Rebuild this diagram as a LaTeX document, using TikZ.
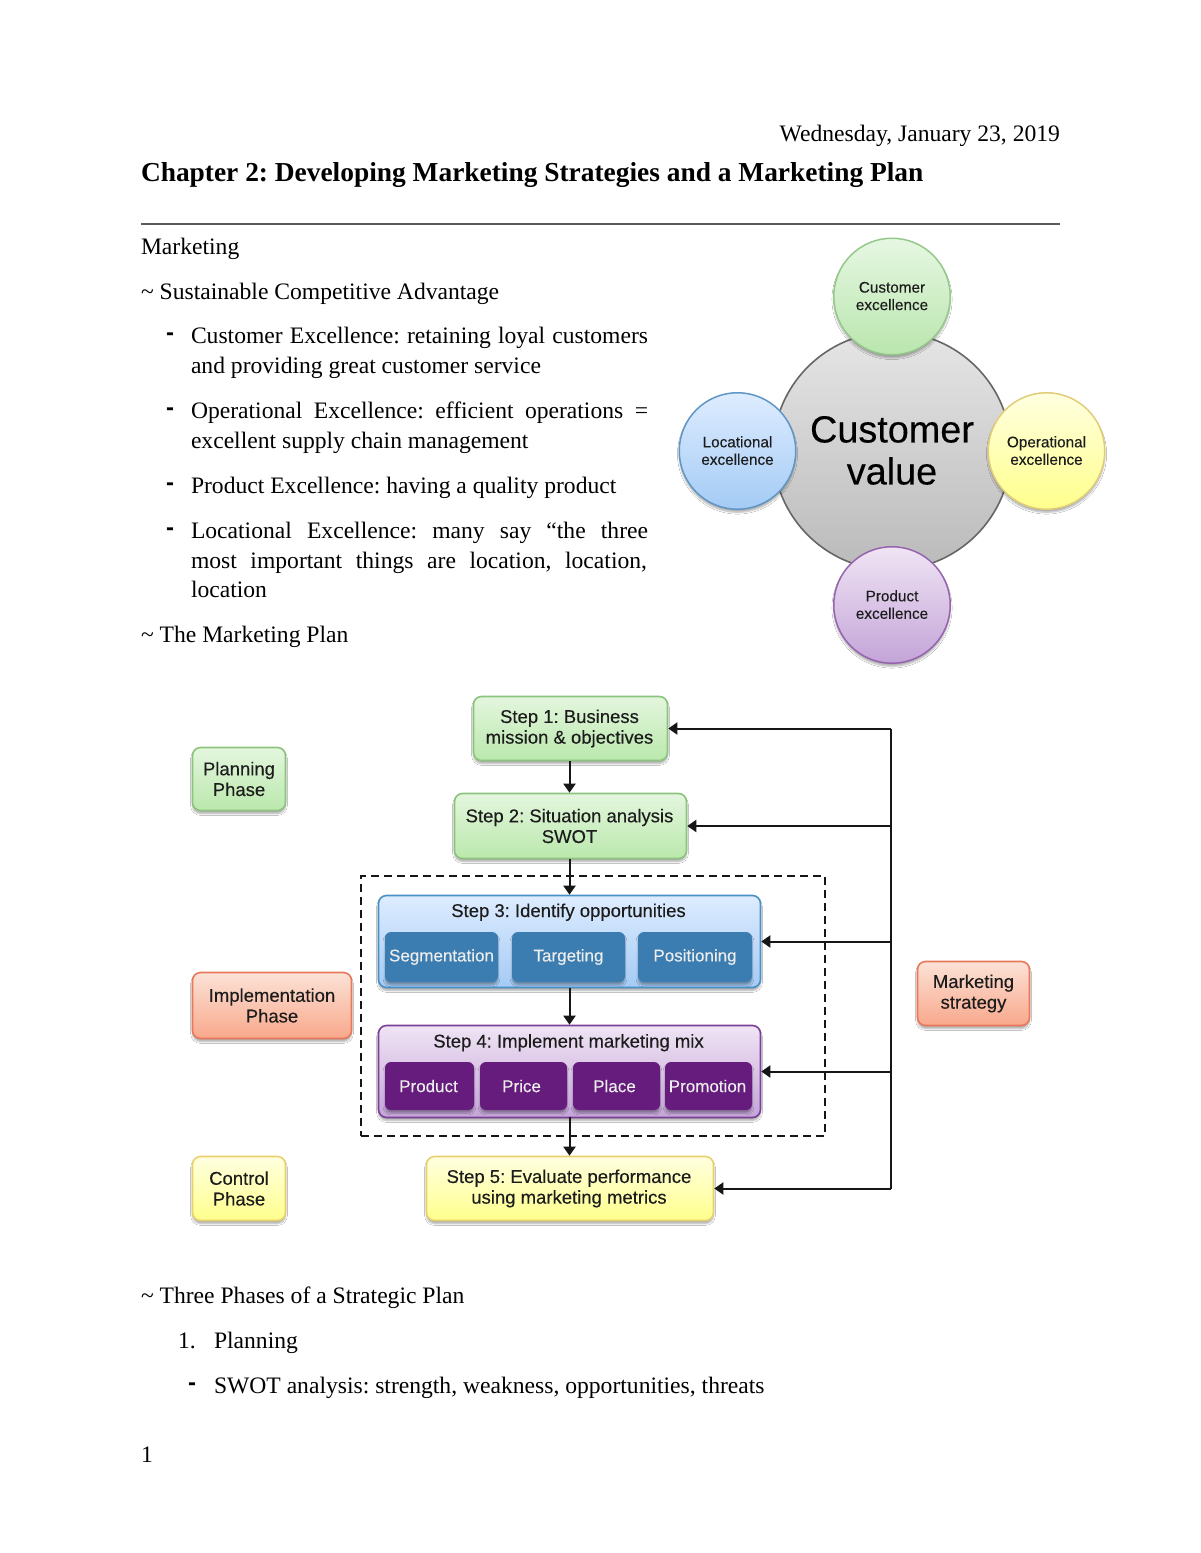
\documentclass[tikz,border=0pt]{standalone}
\usepackage{fontspec}
\setmainfont{Liberation Serif}
\setsansfont[FakeBold=0.25]{Liberation Sans}
\newfontfamily\dashfont[FakeBold=0]{Liberation Sans Bold}
\usetikzlibrary{arrows.meta,shadows.blur}
\definecolor{inkc}{HTML}{1C1C1C}
\definecolor{arrc}{HTML}{161616}
\newcommand{\tl}[4]{\node[pagetext] (#1) at (#2,#3) {#4};}
\newcommand{\jl}[4]{\node[pagetext] (#1) at (191,#2) {\makebox[#3pt][s]{#4}};}
\newcommand{\dashmark}[3]{\node[pagetext,font=\fontsize{24}{28}\selectfont\dashfont] (#1) at (#2,#3) {-};}
\tikzset{
  pagetext/.style={anchor=base west,inner sep=0pt,outer sep=0pt,text=black,font=\fontsize{23.6}{28}\selectfont\frenchspacing},
  softshadow/.style={blur shadow={shadow xshift=0pt,shadow yshift=-3pt,shadow blur radius=1.8pt,shadow blur steps=5,shadow opacity=32}},
  ball/.style={circle,draw,line width=1.5pt,inner sep=0pt,minimum size=116.5pt,align=center,text=inkc,
    font=\sffamily\frenchspacing\fontsize{15.3}{17.5}\selectfont,softshadow},
  bigball/.style={circle,draw=black!60,line width=1.6pt,inner sep=0pt,minimum size=238pt,align=center,text=black,
    top color=black!10,bottom color=black!27,font=\sffamily\frenchspacing\fontsize{37.8}{42}\selectfont},
  pbox/.style={rectangle,rounded corners=8pt,draw,line width=1.6pt,inner sep=0pt,align=center,text=inkc,
    font=\sffamily\frenchspacing\fontsize{18.5}{20.7}\selectfont,softshadow},
  greenbox/.style={draw={rgb,255:red,140;green,195;blue,125},top color={rgb,255:red,228;green,246;blue,222},bottom color={rgb,255:red,186;green,232;blue,172}},
  bluebox/.style={draw={rgb,255:red,74;green,144;blue,196},top color={rgb,255:red,222;green,236;blue,255},bottom color={rgb,255:red,164;green,203;blue,245}},
  purplebox/.style={draw={rgb,255:red,123;green,63;blue,152},top color={rgb,255:red,240;green,228;blue,244},bottom color={rgb,255:red,195;green,164;blue,216}},
  yellowbox/.style={draw={rgb,255:red,232;green,208;blue,110},top color={rgb,255:red,255;green,255;blue,224},bottom color={rgb,255:red,255;green,255;blue,140}},
  orangebox/.style={draw={rgb,255:red,232;green,120;blue,90},top color={rgb,255:red,251;green,226;blue,214},bottom color={rgb,255:red,249;green,168;blue,140}},
  innerblue/.style={rectangle,rounded corners=6pt,fill={rgb,255:red,59;green,125;blue,176},inner sep=0pt,text=white!93!black,
    font=\sffamily\frenchspacing\fontsize{17}{21}\selectfont,softshadow},
  innerpurple/.style={innerblue,fill={rgb,255:red,101;green,28;blue,125}},
  flow/.style={draw=arrc,line width=2pt,-{Triangle[width=12pt,length=9pt]}},
  busline/.style={draw=arrc,line width=2pt},
  dashframe/.style={rectangle,draw=arrc,line width=1.8pt,dash pattern=on 8pt off 5pt,inner sep=0pt}
}
\begin{document}
\begin{tikzpicture}[x=1pt,y=-1pt]
\useasboundingbox[fill=white] (0,0) rectangle (1200,1553);

% page text
\node[pagetext,anchor=base east] (date) at (1060,141) {Wednesday, January 23, 2019};
\node[pagetext,font=\fontsize{27.4}{32}\selectfont\bfseries\frenchspacing] (title) at (141,181) {Chapter 2: Developing Marketing Strategies and a Marketing Plan};
\coordinate (ruleL) at (141,224);
\coordinate (ruleR) at (1060,224);
\draw[line width=1.3pt,draw=black!65] (ruleL) -- (ruleR);
\tl{t1}{141}{254}{Marketing}
\tl{t2}{141}{299}{\textasciitilde\ Sustainable Competitive Advantage}
\dashmark{d1}{166}{340}
\jl{t3}{343}{457}{Customer Excellence: retaining loyal customers}
\tl{t4}{191}{373}{and providing great customer service}
\dashmark{d2}{166}{415}
\jl{t5}{418}{457}{Operational Excellence: efficient operations =}
\tl{t6}{191}{448}{excellent supply chain management}
\dashmark{d3}{166}{490}
\tl{t7}{191}{493}{Product Excellence: having a quality product}
\dashmark{d4}{166}{535}
\jl{t8}{538}{457}{Locational Excellence: many say “the three}
\jl{t9}{568}{456}{most important things are location, location,}
\tl{t10}{191}{597}{location}
\tl{t11}{141}{642}{\textasciitilde\ The Marketing Plan}
\tl{t12}{141}{1303}{\textasciitilde\ Three Phases of a Strategic Plan}
\tl{t13}{178}{1348}{1.}
\tl{t14}{214}{1348}{Planning}
\dashmark{d5}{188}{1390}
\tl{t15}{214}{1393}{SWOT analysis: strength, weakness, opportunities, threats}
\tl{t16}{141}{1462}{1}

% customer value diagram
\node[bigball] (cv) at (892,451) {\raisebox{1.5pt}{Customer}\\\raisebox{1.5pt}{value}};
\node[ball,draw={rgb,255:red,150;green,200;blue,140},top color={rgb,255:red,230;green,247;blue,226},bottom color={rgb,255:red,186;green,230;blue,174}] (ce) at (892,296.5) {\raisebox{1pt}{Customer}\\\raisebox{1pt}{excellence}};
\node[ball,draw={rgb,255:red,150;green,100;blue,175},top color={rgb,255:red,240;green,228;blue,244},bottom color={rgb,255:red,195;green,164;blue,216}] (pe) at (892,605) {\raisebox{1pt}{Product}\\\raisebox{1pt}{excellence}};
\node[ball,draw={rgb,255:red,95;green,150;blue,195},top color={rgb,255:red,222;green,236;blue,255},bottom color={rgb,255:red,164;green,203;blue,245}] (le) at (737.5,451) {\raisebox{1pt}{Locational}\\\raisebox{1pt}{excellence}};
\node[ball,draw={rgb,255:red,225;green,205;blue,120},top color={rgb,255:red,255;green,255;blue,224},bottom color={rgb,255:red,255;green,255;blue,140}] (oe) at (1046.5,451) {\raisebox{1pt}{Operational}\\\raisebox{1pt}{excellence}};

% marketing plan flow
\node[dashframe,minimum width=464pt,minimum height=260pt] (frame) at (593,1006) {};

\node[pbox,greenbox,minimum width=93pt,minimum height=63pt] (plan) at (239,779) {Planning\\Phase};
\node[pbox,orangebox,minimum width=159pt,minimum height=66pt] (impl) at (272,1005.5) {Implementation\\Phase};
\node[pbox,yellowbox,minimum width=93pt,minimum height=64pt] (ctrl) at (239,1188.5) {Control\\Phase};
\node[pbox,orangebox,minimum width=112pt,minimum height=64pt] (mstr) at (973.5,993.5) {Marketing\\strategy};

\node[pbox,greenbox,minimum width=194pt,minimum height=64pt] (s1) at (570.5,728.5) {\hspace*{-2pt}Step 1: Business\\\hspace*{-2pt}mission \& objectives};
\node[pbox,greenbox,minimum width=232pt,minimum height=65pt] (s2) at (570.5,826) {\hspace*{-2pt}Step 2: Situation analysis\\\hspace*{-2pt}SWOT};

\node[pbox,bluebox,minimum width=382pt,minimum height=92pt] (s3) at (569.5,941.5) {};
\node[anchor=base,inner sep=0pt,text=inkc,font=\sffamily\frenchspacing\fontsize{18.5}{21}\selectfont] (s3t) at (568.5,917) {Step 3: Identify opportunities};
\node[innerblue,minimum width=113pt,minimum height=50pt] (seg) at (441.5,957) {Segmentation};
\node[innerblue,minimum width=113pt,minimum height=50pt] (tar) at (568.5,957) {Targeting};
\node[innerblue,minimum width=114pt,minimum height=50pt] (pos) at (695,957) {Positioning};

\node[pbox,purplebox,minimum width=382pt,minimum height=92pt] (s4) at (569.5,1071.5) {};
\node[anchor=base,inner sep=0pt,text=inkc,font=\sffamily\frenchspacing\fontsize{18.5}{21}\selectfont] (s4t) at (568.5,1047.5) {Step 4: Implement marketing mix};
\node[innerpurple,minimum width=89pt,minimum height=48pt] (prod) at (429.5,1086) {\hspace*{-2pt}Product};
\node[innerpurple,minimum width=87pt,minimum height=48pt] (pric) at (523.5,1086) {\hspace*{-4pt}Price};
\node[innerpurple,minimum width=87pt,minimum height=48pt] (plac) at (616.5,1086) {\hspace*{-4pt}Place};
\node[innerpurple,minimum width=87pt,minimum height=48pt] (prom) at (708.5,1086) {\hspace*{-2pt}Promotion};

\node[pbox,yellowbox,minimum width=287pt,minimum height=64pt] (s5) at (570,1188.5) {\raisebox{-1.5pt}{\hspace*{-2pt}Step 5: Evaluate performance}\\\raisebox{-1.5pt}{\hspace*{-2pt}using marketing metrics}};

\coordinate (busT) at (891,728.5);
\coordinate (busB) at (891,1188.5);
\coordinate (c1) at (569.5,761);
\coordinate (c2) at (569.5,859);
\coordinate (c3) at (569.5,988);
\coordinate (c4) at (569.5,1117);
\draw[flow] (c1) -- (c1 |- s2.north);
\draw[flow] (c2) -- (c2 |- s3.north);
\draw[flow] (c3) -- (c3 |- s4.north);
\draw[flow] (c4) -- (c4 |- s5.north);
\draw[busline] (busT) -- (busB);
\draw[flow] (busT) -- (s1.east);
\draw[flow] (busT |- s2.east) -- (s2.east);
\draw[flow] (busT |- s3.east) -- (s3.east);
\draw[flow] (busT |- s4.east) -- (s4.east);
\draw[flow] (busB) -- (s5.east);
\end{tikzpicture}
\end{document}
